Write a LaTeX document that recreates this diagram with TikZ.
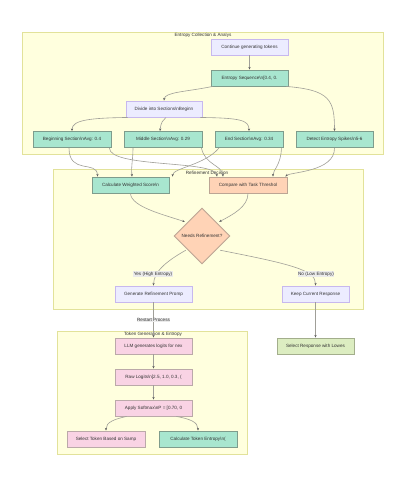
\documentclass[tikz,border=0pt]{standalone}
\usepackage{fontspec}
\setmainfont{Liberation Sans}
\usetikzlibrary{arrows.meta,shapes.geometric}
\definecolor{clfill}{HTML}{FFFFDE}
\definecolor{cldraw}{HTML}{E2E29A}
\definecolor{lavfill}{HTML}{ECECFF}
\definecolor{lavdraw}{HTML}{C7B8EE}
\definecolor{grfill}{HTML}{A8E6CF}
\definecolor{grdraw}{HTML}{7E9C8C}
\definecolor{safill}{HTML}{FFD3B6}
\definecolor{sadraw}{HTML}{BCA594}
\definecolor{pkfill}{HTML}{F9D3E4}
\definecolor{pkdraw}{HTML}{BBA9A9}
\definecolor{lgfill}{HTML}{DCEDC1}
\definecolor{lgdraw}{HTML}{A3AE8C}
\definecolor{edgec}{HTML}{A09F98}
\definecolor{txtc}{HTML}{333333}
\tikzset{
  txt/.style={font=\fontsize{4.6}{5.2}\selectfont, text=txtc},
  bx/.style={txt, draw, line width=0.9pt, minimum height=16pt, inner sep=0pt, minimum width=#1},
  bx/.default=77pt,
  lav/.style={fill=lavfill, draw=lavdraw},
  grn/.style={fill=grfill, draw=grdraw},
  sal/.style={fill=safill, draw=sadraw},
  pnk/.style={fill=pkfill, draw=pkdraw},
  lgr/.style={fill=lgfill, draw=lgdraw},
  cluster/.style={fill=clfill, draw=cldraw, line width=0.8pt},
  ctitle/.style={txt, inner sep=0pt},
  edge/.style={draw=edgec, line width=0.6pt, -{Stealth[length=2.6pt,width=2.2pt,color=txtc!80]}},
  elabel/.style={txt, fill=black!8, inner sep=0.6pt}
}
\begin{document}
\begin{tikzpicture}[x=1pt,y=-1pt]
\useasboundingbox (0,0) rectangle (418,491);
\fill[white] (0,0) rectangle (418,491);
% clusters
\draw[cluster] (22,32) rectangle (383,154);
\node[ctitle] (t1) at (203,35.5) {Entropy Collection \& Analys};
\draw[cluster] (53,169) rectangle (363,309);
\node[ctitle] (t2) at (207,173) {Refinement Decision};
\draw[cluster] (57,331) rectangle (247,454);
\node[ctitle] (t3) at (153,334.5) {Token Generation \& Entropy};
% cluster 1 nodes
\node[bx, lav] (cont) at (249.5,47) {Continue generating tokens};
\node[bx, grn] (seq) at (249.5,78) {Entropy Sequence\textbackslash n[0.4, 0.};
\node[bx=76pt, lav] (div) at (164,109) {Divide into Sections\textbackslash nBeginn};
\node[bx=78pt, grn] (beg) at (72,139.5) {Beginning Section\textbackslash nAvg: 0.4};
\node[bx=78pt, grn] (mid) at (163,139.5) {Middle Section\textbackslash nAvg: 0.29};
\node[bx=68pt, grn] (endn) at (249,139.5) {End Section\textbackslash nAvg: 0.34};
\node[bx=77pt, grn] (spk) at (334.5,139.5) {Detect Entropy Spikes\textbackslash n5-6};
% cluster 2 nodes
\node[bx, grn] (calc) at (130.5,185) {Calculate Weighted Score\textbackslash n};
\node[bx=78pt, sal] (cmp) at (248,185) {Compare with Task Threshol};
\node[diamond, txt, fill=safill, draw=sadraw, line width=0.9pt, minimum width=56pt, minimum height=56pt, inner sep=0pt] (dec) at (202,236) {Needs Refinement?};
\node[bx, lav] (gen) at (153.5,294) {Generate Refinement Promp};
\node[bx=67pt, lav] (keep) at (315.5,294) {Keep Current Response};
% cluster 3 nodes
\node[bx, pnk] (llm) at (153.5,346) {LLM generates logits for nex};
\node[bx, pnk] (raw) at (153.5,377) {Raw Logits\textbackslash n[2.5, 1.0, 0.3, (};
\node[bx, pnk] (app) at (153.5,408) {Apply Softmax\textbackslash nP = [0.70, 0};
\node[bx=78pt, pnk] (sel) at (106,439) {Select Token Based on Samp};
\node[bx=78pt, grn] (cte) at (198,439) {Calculate Token Entropy\textbackslash n(};
\node[bx=77pt, lgr] (low) at (315.5,346) {Select Response with Lowes};
% edges cluster 1
\draw[edge] (cont) -- (seq);
\draw[edge] ([xshift=2pt]seq.south west) .. controls (185,92) and (165,92) .. (div.north);
\draw[edge] ([xshift=-2pt]seq.south east) .. controls (330,90) and (334.5,100) .. (spk.north);
\draw[edge] ([xshift=2pt]div.south west) .. controls (90,118) and (72,120) .. (beg.north);
\draw[edge] ([xshift=2pt]div.south) .. controls (163,120) and (161,122) .. ([xshift=-3pt]mid.north);
\draw[edge] ([xshift=-2pt]div.south east) .. controls (240,118) and (249,120) .. (endn.north);
% edges to cluster 2
\draw[edge] ([xshift=-3pt]beg.south) .. controls (69,175) and (97,160) .. ([xshift=-33pt]calc.north);
\draw[edge] ([xshift=-2pt]beg.south east) .. controls (109,168) and (215,160) .. ([xshift=-31pt]cmp.north);
\draw[edge] ([xshift=-30pt]mid.south) .. controls (133,160) and (131,165) .. ([xshift=1.5pt]calc.north);
\draw[edge] ([xshift=-1pt]mid.south east) .. controls (205,165) and (222,165) .. ([xshift=-25pt]cmp.north);
\draw[edge] ([xshift=-30pt]endn.south) .. controls (205,165) and (173,168) .. ([xshift=42pt]calc.north);
\draw[edge] ([xshift=-2pt]endn.south east) .. controls (281,165) and (273,170) .. ([xshift=25pt]cmp.north);
\draw[edge] (spk.south) .. controls (335,172) and (290,172) .. ([xshift=-2pt]cmp.north east);
% edges cluster 2
\draw[edge] (calc.south) .. controls (131,207) and (165,215) .. ([xshift=-3pt]dec.north west);
\draw[edge] (cmp.south) .. controls (248,207) and (232,215) .. ([xshift=3pt]dec.north east);
\draw[edge] ([xshift=-2pt]dec.south west) .. controls (165,262) and (154,272) .. (gen.north);
\draw[edge] ([xshift=4pt]dec.south east) .. controls (290,264) and (316,270) .. (keep.north);
\node[elabel] (ly) at (153,274) {Yes (High Entropy)};
\node[elabel] (ln) at (316,274) {No (Low Entropy)};
% edges to cluster 3
\draw[edge] (gen) -- (llm);
\node[elabel] (lr) at (153.5,320) {Restart Process};
\draw[edge] (keep) -- (low);
\draw[edge] (llm) -- (raw);
\draw[edge] (raw) -- (app);
\draw[edge] ([xshift=-27pt]app.south) .. controls (115,419) and (106,422) .. (sel.north);
\draw[edge] ([xshift=23pt]app.south) .. controls (190,419) and (198,422) .. (cte.north);
\end{tikzpicture}
\end{document}
